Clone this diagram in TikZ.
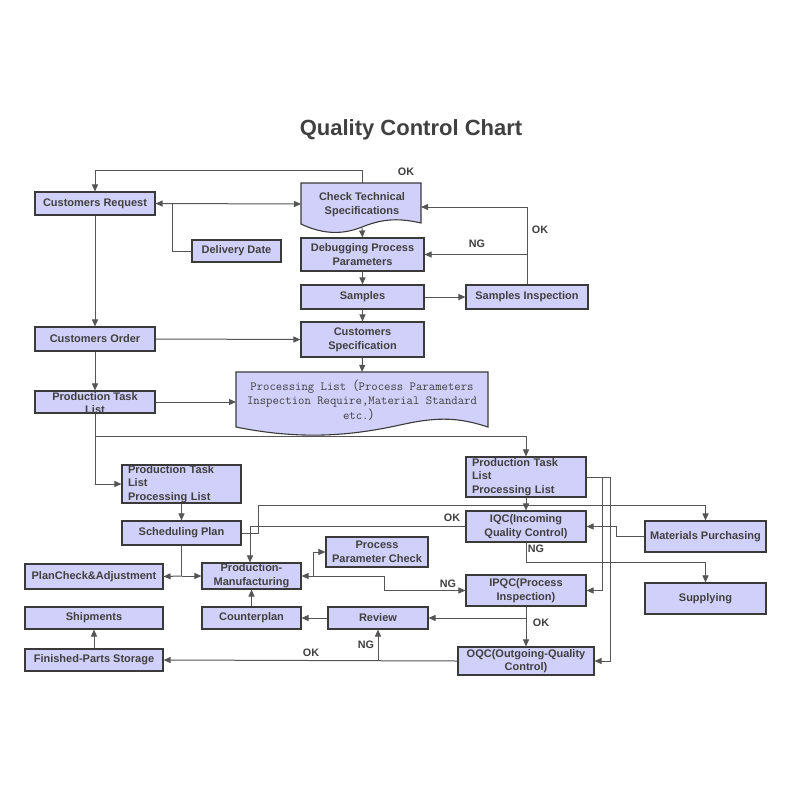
\documentclass[tikz,border=0pt]{standalone}
\usepackage{fontspec}
\setmainfont{Liberation Sans}
\newfontfamily\cjk{Noto Sans CJK SC}
\usetikzlibrary{arrows.meta}
\definecolor{boxc}{RGB}{208,208,250}
\definecolor{bordc}{RGB}{58,58,58}
\definecolor{txtc}{RGB}{64,64,64}
\definecolor{linec}{RGB}{85,85,85}
\tikzset{
  box/.style={draw=bordc, fill=boxc, line width=1.1pt, text=txtc, align=center, inner sep=0pt,
    font=\bfseries\fontsize{11}{13.7}\selectfont},
  lbox/.style={box, align=left, text width=#1, inner xsep=6pt},
  doc/.style={draw=bordc, fill=boxc, line width=1.1pt},
  conn/.style={draw=linec, line width=1pt},
  arr/.style={conn, -{Triangle[length=7pt,width=6pt]}},
  darr/.style={conn, {Triangle[length=7pt,width=6pt]}-{Triangle[length=7pt,width=6pt]}},
  lab/.style={text=txtc, font=\bfseries\fontsize{10.8}{12}\selectfont, inner sep=0pt}
}
\begin{document}
\begin{tikzpicture}[x=1pt,y=-1pt]
\useasboundingbox (0,0) rectangle (800,800);
\fill[white] (0,0) rectangle (800,800);
% title
\node[text=txtc, font=\bfseries\fontsize{22}{26}\selectfont] (title) at (411,130) {Quality Control Chart};

% document shapes
\path[doc] (301,183) -- (421,183) -- (421,223) .. controls (395,217) and (380,220) .. (362,227)
  .. controls (340,236) and (320,233) .. (301,224) -- cycle;
\node[text=txtc, align=center, font=\bfseries\fontsize{11}{13.7}\selectfont] (ct) at (362,205) {Check Technical\\Specifications};
\coordinate (ctT) at (362,183);
\coordinate (ctL) at (301,204);
\coordinate (ctR) at (421,207);
\coordinate (ctB) at (362,228);

\path[doc] (236,372) -- (488,372) -- (488,427) .. controls (460,418) and (440,416) .. (400,425)
  .. controls (350,436) and (300,440) .. (236,427) -- cycle;
\node[text=txtc, align=center, font=\ttfamily\fontsize{12.4}{14.5}\selectfont] (pl) at (362,400)
  {Processing List{\cjk （}Process Parameters\\Inspection Require,Material Standard\\etc.{\cjk ）}};
\coordinate (plT) at (362,372);
\coordinate (plL) at (236,402);

% boxes
\node[box, minimum width=120pt, minimum height=23pt] (creq) at (95,203.5) {Customers Request};
\node[box, minimum width=89pt, minimum height=22pt] (deliv) at (236.5,251) {Delivery Date};
\node[box, minimum width=123pt, minimum height=33pt] (debug) at (362.5,254.5) {Debugging Process\\Parameters};
\node[box, minimum width=123pt, minimum height=24pt] (samples) at (362.5,297) {Samples};
\node[box, minimum width=122pt, minimum height=24pt] (sinsp) at (527,297) {Samples Inspection};
\node[box, minimum width=120pt, minimum height=24pt] (corder) at (95,339) {Customers Order};
\node[box, minimum width=123pt, minimum height=35pt] (cspec) at (362.5,339.5) {Customers\\Specification};
\node[box, minimum width=120pt, minimum height=22pt] (ptl1) at (95,402) {};
\node[text=txtc, align=center, inner sep=0pt, font=\bfseries\fontsize{11}{13.7}\selectfont] (ptl1t) at (95,403) {Production Task\\List};
\node[lbox=107pt, minimum height=38pt] (ptl2) at (181.5,484) {Production Task\\List\\Processing List};
\node[lbox=108pt, minimum height=40pt] (ptl3) at (526,477) {Production Task\\List\\Processing List};
\node[box, minimum width=119pt, minimum height=24pt] (sched) at (181.5,533) {Scheduling Plan};
\node[box, minimum width=120pt, minimum height=31pt] (iqc) at (526,526.5) {IQC(Incoming\\Quality Control)};
\node[box, minimum width=121pt, minimum height=31pt] (matp) at (705.5,536.5) {Materials Purchasing};
\node[box, minimum width=102pt, minimum height=30pt] (ppc) at (377,552) {Process\\Parameter Check};
\node[box, minimum width=99pt, minimum height=26pt] (prod) at (251.5,576) {Production-\\Manufacturing};
\node[box, minimum width=138pt, minimum height=25pt] (plan) at (94,576.5) {PlanCheck\&Adjustment};
\node[box, minimum width=120pt, minimum height=31pt] (ipqc) at (526,590.5) {IPQC(Process\\Inspection)};
\node[box, minimum width=121pt, minimum height=31pt] (supp) at (705.5,598.5) {Supplying};
\node[box, minimum width=138pt, minimum height=22pt] (ship) at (94,618) {Shipments};
\node[box, minimum width=99pt, minimum height=22pt] (counter) at (251.5,618) {Counterplan};
\node[box, minimum width=100pt, minimum height=22pt] (review) at (378,618) {Review};
\node[box, minimum width=138pt, minimum height=22pt] (fps) at (94,660) {Finished-Parts Storage};
\node[box, minimum width=136pt, minimum height=28pt] (oqc) at (526,661) {OQC(Outgoing-Quality\\Control)};

% junctions
\coordinate (j1) at (172,203.5);
\coordinate (j2) at (527,254.5);
\coordinate (j3) at (95,436);
\coordinate (j4) at (181.5,576);
\coordinate (j5) at (258,533);
\coordinate (j6) at (610,477);
\coordinate (j7) at (602,477);
\coordinate (j8) at (313,576);
\coordinate (j9) at (526,618);
\coordinate (j10) at (378,661);
\coordinate (j11) at (616,536.5);
\coordinate (j12) at (384,576);

% connectors
\draw[arr] (ctT) -- (362,170) -| (creq.north);
\draw[darr] (creq.east) -- (ctL);
\draw[conn] (deliv.west) -| (j1);
\draw[arr] (ctB) -- (debug.north);
\draw[arr] (debug.south) -- (samples.north);
\draw[arr] (samples.east) -- (sinsp.west);
\draw[arr] (sinsp.north) |- (ctR);
\draw[arr] (j2) -- (debug.east);
\draw[arr] (samples.south) -- (cspec.north);
\draw[arr] (creq.south) -- (corder.north);
\draw[arr] (corder.east) -- (cspec.west);
\draw[arr] (cspec.south) -- (plT);
\draw[arr] (corder.south) -- (ptl1.north);
\draw[arr] (ptl1.east) -- (plL);
\draw[arr] (ptl1.south) -- (j3) -| (ptl3.north);
\draw[arr] (j3) |- (ptl2.west);
\draw[arr] (ptl2.south) -- (sched.north);
\draw[conn] (sched.south) -- (j4);
\draw[arr] (j4) -- (plan.east);
\draw[arr] (j4) -- (prod.west);
\draw[arr] (sched.east) -- (j5) -- (258,505) -| (matp.north);
\draw[arr] (ptl3.south) -- (iqc.north);
\draw[arr] (iqc.west) -| ([xshift=-1.5pt]prod.north);
\draw[arr] (matp.west) -- (j11) |- (iqc.east);
\draw[arr] (iqc.south) -- (526,562) -| (supp.north);
\draw[conn] (ptl3.east) -- (j6);
\draw[arr] (j7) |- (ipqc.east);
\draw[arr] (j6) |- (oqc.east);
\draw[darr] (prod.east) -- (j12) |- (ipqc.west);
\draw[arr] (j8) |- (ppc.west);
\draw[arr] (ipqc.south) -- (oqc.north);
\draw[arr] (j9) -- (review.east);
\draw[arr] (review.west) -- (counter.east);
\draw[arr] (counter.north) -- (prod.south);
\draw[arr] (oqc.west) -- (fps.east);
\draw[arr] (j10) -- (review.south);
\draw[arr] (fps.north) -- (ship.south);

% labels
\node[lab] (l1) at (406,172) {OK};
\node[lab] (l2) at (540,230) {OK};
\node[lab] (l3) at (477,244) {NG};
\node[lab] (l4) at (452,518) {OK};
\node[lab] (l5) at (536,549) {NG};
\node[lab] (l6) at (448,584) {NG};
\node[lab] (l7) at (541,623) {OK};
\node[lab] (l8) at (311,653) {OK};
\node[lab] (l9) at (366,645) {NG};
\end{tikzpicture}
\end{document}
